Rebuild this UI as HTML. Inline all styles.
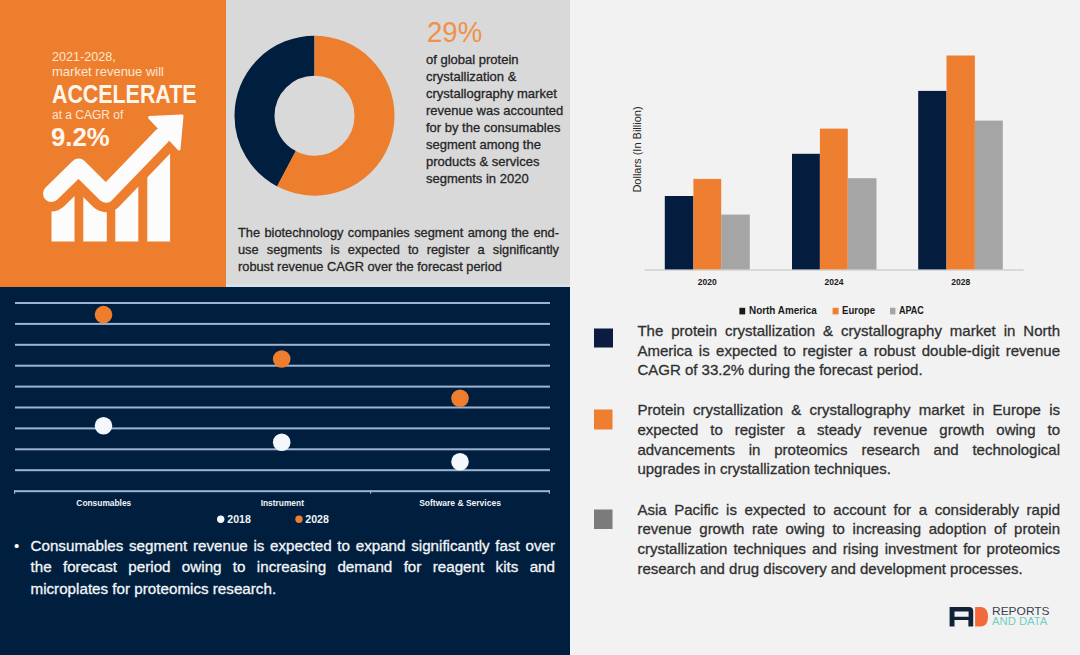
<!DOCTYPE html>
<html><head><meta charset="utf-8">
<style>
html,body{margin:0;padding:0;}
body{width:1080px;height:655px;position:relative;overflow:hidden;background:#f2f2f2;font-family:"Liberation Sans",sans-serif;}
.p{position:absolute;}
.t{position:absolute;white-space:nowrap;}
.s{-webkit-text-stroke:0.3px currentColor;}
svg{position:absolute;left:0;top:0;}
</style></head><body>
<div class="p" style="left:0;top:287px;width:570px;height:368px;background:#001f3e"></div>
<div class="p" style="left:0;top:0;width:226px;height:287px;background:#ed7e2e"></div>
<div class="p" style="left:226px;top:0;width:343.5px;height:287px;background:#d9d9d9"></div>
<div class="p" style="left:226px;top:284px;width:343.5px;height:3px;background:#d8e0ea"></div>
<svg width="1080" height="655" viewBox="0 0 1080 655">
  <!-- arrow icon -->
  <clipPath id="bc"><polygon points="40,204.7 78.6,167 106,194.2 164,134 200,96.6 200,250 40,250"/></clipPath>
  <g fill="#fcfcfc" clip-path="url(#bc)">
    <rect x="51.5" y="150" width="23" height="91.5"/>
    <rect x="83.3" y="150" width="23.5" height="91.5"/>
    <rect x="115.3" y="140" width="23" height="101.5"/>
    <rect x="147.3" y="120" width="22.8" height="121.5"/>
  </g>
  <polyline points="51.5,193.5 78.6,167 106,194.2 164,134" fill="none" stroke="#ed7e2e" stroke-width="36" stroke-linejoin="round" stroke-linecap="round"/>
  <polygon points="146,114 184.5,113 182,152" fill="#ed7e2e" stroke="#ed7e2e" stroke-width="12" stroke-linejoin="round"/>
  <polyline points="51.5,193.5 78.6,167 106,194.2 162,136" fill="none" stroke="#fcfcfc" stroke-width="17" stroke-linejoin="round" stroke-linecap="round"/>
  <polygon points="149.5,117.5 182,116 179,149" fill="#fcfcfc" stroke="#fcfcfc" stroke-width="3" stroke-linejoin="round"/>
  <!-- donut -->
  <circle cx="314.5" cy="115.7" r="60" fill="none" stroke="#001f3e" stroke-width="40" stroke-dasharray="160.07 1000" stroke-dashoffset="-217.22" transform="rotate(-90 314.5 115.7)"/>
  <circle cx="314.5" cy="115.7" r="60" fill="none" stroke="#ed7e2e" stroke-width="40" stroke-dasharray="217.52 1000" transform="rotate(-90 314.5 115.7)"/>
  <!-- dot chart -->
  <rect x="15" y="302.0" width="535" height="2" fill="#9cb4d2"/><rect x="15" y="322.9" width="535" height="2" fill="#9cb4d2"/><rect x="15" y="343.8" width="535" height="2" fill="#9cb4d2"/><rect x="15" y="364.7" width="535" height="2" fill="#9cb4d2"/><rect x="15" y="385.6" width="535" height="2" fill="#9cb4d2"/><rect x="15" y="406.5" width="535" height="2" fill="#9cb4d2"/><rect x="15" y="427.4" width="535" height="2" fill="#9cb4d2"/><rect x="15" y="448.3" width="535" height="2" fill="#9cb4d2"/><rect x="15" y="469.2" width="535" height="2" fill="#9cb4d2"/>
  <rect x="14" y="490.2" width="536" height="2" fill="#9cb4d2"/>
  <rect x="14" y="490.2" width="1.2" height="3.5" fill="#9cb4d2"/>
  <rect x="370" y="490.2" width="1.2" height="3.5" fill="#9cb4d2"/>
  <rect x="548.8" y="490.2" width="1.2" height="3.5" fill="#9cb4d2"/>
  <circle cx="103.5" cy="314.6" r="8.8" fill="#ee7e2e"/><circle cx="103.5" cy="425.7" r="8.8" fill="#f4f7fb"/><circle cx="281.7" cy="359" r="8.8" fill="#ee7e2e"/><circle cx="281.7" cy="442.3" r="8.8" fill="#f4f7fb"/><circle cx="460" cy="398.3" r="8.8" fill="#ee7e2e"/><circle cx="460" cy="461.7" r="8.8" fill="#f4f7fb"/>
  <circle cx="220.7" cy="519.3" r="3.7" fill="#f4f7fb"/>
  <circle cx="299" cy="519.3" r="3.7" fill="#ee7e2e"/>
  <!-- bar chart -->
  <rect x="644.6" y="269.4" width="379" height="1.2" fill="#c8c8c8"/>
  <rect x="664.8" y="196" width="28.6" height="73.4" fill="#041d3e"/>
  <rect x="693.4" y="178.9" width="27.8" height="90.5" fill="#ef7f30"/>
  <rect x="721.2" y="214.6" width="28.6" height="54.8" fill="#a5a5a5"/>
  <rect x="792" y="153.8" width="27.9" height="115.6" fill="#041d3e"/>
  <rect x="819.9" y="128.6" width="27.9" height="140.8" fill="#ef7f30"/>
  <rect x="847.8" y="178.2" width="28.7" height="91.2" fill="#a5a5a5"/>
  <rect x="918.2" y="90.9" width="28.3" height="178.5" fill="#041d3e"/>
  <rect x="946.5" y="55.5" width="28.4" height="213.9" fill="#ef7f30"/>
  <rect x="974.9" y="120.6" width="27.9" height="148.8" fill="#a5a5a5"/>
  <rect x="739.4" y="307.8" width="5.8" height="6.6" fill="#1a1a1a"/>
  <rect x="832.6" y="307.8" width="6" height="6.6" fill="#ef7f30"/>
  <rect x="890" y="307.8" width="5.4" height="6.6" fill="#a5a5a5"/>
  <!-- right squares -->
  <rect x="594" y="328.5" width="19" height="19" fill="#0b1b42"/>
  <rect x="594" y="409.5" width="18.5" height="20" fill="#ef7f30"/>
  <rect x="594" y="509.5" width="18.5" height="19.5" fill="#7b7b7b"/>
  <!-- logo -->
  <path d="M949.6,606.9 H969 Q973.2,606.9 973.2,611 V626.5 H968.4 V620 H954.5 V626.5 H949.6 Z M954.5,611.5 V616.8 H968.6 V611.5 Z" fill="#102237" fill-rule="evenodd"/>
  <path d="M975.1,606.9 H981 Q988,607.5 988,616.7 Q988,626 981,626.5 H975.1 Z" fill="#f2693a"/>
</svg>
<div class="t" style="left:52px;top:48.70px;font-size:13px;line-height:15.6px;color:#fde6d2;font-weight:normal;transform:scaleX(0.97);transform-origin:0 0;">2021-2028,</div>
<div class="t" style="left:52px;top:64.20px;font-size:13px;line-height:15.6px;color:#fde6d2;font-weight:normal;">market revenue will</div>
<div class="t" style="left:51.5px;top:78.84px;font-size:25px;line-height:30.0px;color:#fff6ee;font-weight:bold;transform:scaleX(0.855);transform-origin:0 0;">ACCELERATE</div>
<div class="t" style="left:52px;top:108.34px;font-size:12px;line-height:14.4px;color:#fde6d2;font-weight:normal;">at a CAGR of</div>
<div class="t" style="left:51px;top:121.99px;font-size:26px;line-height:31.2px;color:#fff6ee;font-weight:bold;transform:scaleX(0.99);transform-origin:0 0;">9.2%</div>
<div class="t" style="left:427px;top:14.48px;font-size:29.5px;line-height:35.4px;color:#f0914a;font-weight:normal;transform:scaleX(0.935);transform-origin:0 0;">29%</div>
<div class="t s" style="left:426px;top:51.90px;font-size:13px;line-height:15.6px;color:#262626;font-weight:normal;">of global protein</div>
<div class="t s" style="left:426px;top:68.95px;font-size:13px;line-height:15.6px;color:#262626;font-weight:normal;">crystallization &amp;</div>
<div class="t s" style="left:426px;top:86.00px;font-size:13px;line-height:15.6px;color:#262626;font-weight:normal;">crystallography market</div>
<div class="t s" style="left:426px;top:103.05px;font-size:13px;line-height:15.6px;color:#262626;font-weight:normal;">revenue was accounted</div>
<div class="t s" style="left:426px;top:120.10px;font-size:13px;line-height:15.6px;color:#262626;font-weight:normal;">for by the consumables</div>
<div class="t s" style="left:426px;top:137.15px;font-size:13px;line-height:15.6px;color:#262626;font-weight:normal;">segment among the</div>
<div class="t s" style="left:426px;top:154.20px;font-size:13px;line-height:15.6px;color:#262626;font-weight:normal;">products &amp; services</div>
<div class="t s" style="left:426px;top:171.25px;font-size:13px;line-height:15.6px;color:#262626;font-weight:normal;">segments in 2020</div>
<div class="t s" style="left:238px;top:225.48px;font-size:12.8px;line-height:15.36px;color:#262626;font-weight:normal;width:321.00px;text-align:justify;text-align-last:justify;">The biotechnology companies segment among the end-</div>
<div class="t s" style="left:238px;top:242.08px;font-size:12.8px;line-height:15.36px;color:#262626;font-weight:normal;width:321.00px;text-align:justify;text-align-last:justify;">use segments is expected to register a significantly</div>
<div class="t s" style="left:238px;top:258.68px;font-size:12.8px;line-height:15.36px;color:#262626;font-weight:normal;">robust revenue CAGR over the forecast period</div>
<div class="t" style="left:14px;top:536.80px;font-size:15px;line-height:18.0px;color:#ffffff;font-weight:normal;">&bull;</div>
<div class="t s" style="left:30.5px;top:536.81px;font-size:15.2px;line-height:18.24px;color:#f3f5f8;font-weight:normal;width:524.50px;text-align:justify;text-align-last:justify;">Consumables segment revenue is expected to expand significantly fast over</div>
<div class="t s" style="left:30.5px;top:558.41px;font-size:15.2px;line-height:18.24px;color:#f3f5f8;font-weight:normal;width:524.50px;text-align:justify;text-align-last:justify;">the forecast period owing to increasing demand for reagent kits and</div>
<div class="t s" style="left:30.5px;top:580.01px;font-size:15.2px;line-height:18.24px;color:#f3f5f8;font-weight:normal;">microplates for proteomics research.</div>
<div class="t s" style="left:637.4px;top:321.90px;font-size:15px;line-height:18.0px;color:#303030;font-weight:normal;width:422.60px;text-align:justify;text-align-last:justify;">The protein crystallization &amp; crystallography market in North</div>
<div class="t s" style="left:637.4px;top:341.60px;font-size:15px;line-height:18.0px;color:#303030;font-weight:normal;width:422.60px;text-align:justify;text-align-last:justify;">America is expected to register a robust double-digit revenue</div>
<div class="t s" style="left:637.4px;top:361.30px;font-size:15px;line-height:18.0px;color:#303030;font-weight:normal;">CAGR of 33.2% during the forecast period.</div>
<div class="t s" style="left:637.4px;top:401.30px;font-size:15px;line-height:18.0px;color:#303030;font-weight:normal;width:422.60px;text-align:justify;text-align-last:justify;">Protein crystallization &amp; crystallography market in Europe is</div>
<div class="t s" style="left:637.4px;top:420.90px;font-size:15px;line-height:18.0px;color:#303030;font-weight:normal;width:422.60px;text-align:justify;text-align-last:justify;">expected to register a steady revenue growth owing to</div>
<div class="t s" style="left:637.4px;top:440.50px;font-size:15px;line-height:18.0px;color:#303030;font-weight:normal;width:422.60px;text-align:justify;text-align-last:justify;">advancements in proteomics research and technological</div>
<div class="t s" style="left:637.4px;top:460.10px;font-size:15px;line-height:18.0px;color:#303030;font-weight:normal;">upgrades in crystallization techniques.</div>
<div class="t s" style="left:637.4px;top:500.80px;font-size:15px;line-height:18.0px;color:#303030;font-weight:normal;width:422.60px;text-align:justify;text-align-last:justify;">Asia Pacific is expected to account for a considerably rapid</div>
<div class="t s" style="left:637.4px;top:520.40px;font-size:15px;line-height:18.0px;color:#303030;font-weight:normal;width:422.60px;text-align:justify;text-align-last:justify;">revenue growth rate owing to increasing adoption of protein</div>
<div class="t s" style="left:637.4px;top:540.00px;font-size:15px;line-height:18.0px;color:#303030;font-weight:normal;width:422.60px;text-align:justify;text-align-last:justify;">crystallization techniques and rising investment for proteomics</div>
<div class="t s" style="left:637.4px;top:559.60px;font-size:15px;line-height:18.0px;color:#303030;font-weight:normal;">research and drug discovery and development processes.</div>
<div class="t" style="left:557.3px;width:300px;text-align:center;top:276.95px;font-size:8.5px;line-height:10.2px;color:#1a1a1a;font-weight:bold;">2020</div>
<div class="t" style="left:684px;width:300px;text-align:center;top:276.95px;font-size:8.5px;line-height:10.2px;color:#1a1a1a;font-weight:bold;">2024</div>
<div class="t" style="left:810.7px;width:300px;text-align:center;top:276.95px;font-size:8.5px;line-height:10.2px;color:#1a1a1a;font-weight:bold;">2028</div>
<div class="t" style="left:748.5px;top:304.94px;font-size:10px;line-height:12.0px;color:#1a1a1a;font-weight:bold;transform:scaleX(0.99);transform-origin:0 0;">North America</div>
<div class="t" style="left:842.2px;top:304.94px;font-size:10px;line-height:12.0px;color:#1a1a1a;font-weight:bold;transform:scaleX(0.96);transform-origin:0 0;">Europe</div>
<div class="t" style="left:898.9px;top:304.94px;font-size:10px;line-height:12.0px;color:#1a1a1a;font-weight:bold;transform:scaleX(0.9);transform-origin:0 0;">APAC</div>
<div class="t" style="left:-46.2px;width:300px;text-align:center;top:498.25px;font-size:8.4px;line-height:10.08px;color:#f0f3f7;font-weight:bold;">Consumables</div>
<div class="t" style="left:132.3px;width:300px;text-align:center;top:498.25px;font-size:8.4px;line-height:10.08px;color:#f0f3f7;font-weight:bold;">Instrument</div>
<div class="t" style="left:310px;width:300px;text-align:center;top:498.15px;font-size:8.5px;line-height:10.2px;color:#f0f3f7;font-weight:bold;">Software &amp; Services</div>
<div class="t" style="left:227.3px;top:512.67px;font-size:10.6px;line-height:12.72px;color:#f0f3f7;font-weight:bold;">2018</div>
<div class="t" style="left:305.3px;top:512.67px;font-size:10.6px;line-height:12.72px;color:#f0f3f7;font-weight:bold;">2028</div>
<div class="t" style="left:991.5px;top:604.72px;font-size:11.5px;line-height:13.8px;color:#3a4250;font-weight:normal;transform:scaleX(1.04);transform-origin:0 0;">REPORTS</div>
<div class="t" style="left:991.5px;top:615.22px;font-size:11.5px;line-height:13.8px;color:#6fcfc3;font-weight:normal;transform:scaleX(0.98);transform-origin:0 0;">AND DATA</div>
<div class="t" style="left:536.5px;top:142.1px;width:200px;height:15px;line-height:15px;text-align:center;font-size:11px;color:#262626;transform:rotate(-90deg);">Dollars (In Billion)</div>
</body></html>
